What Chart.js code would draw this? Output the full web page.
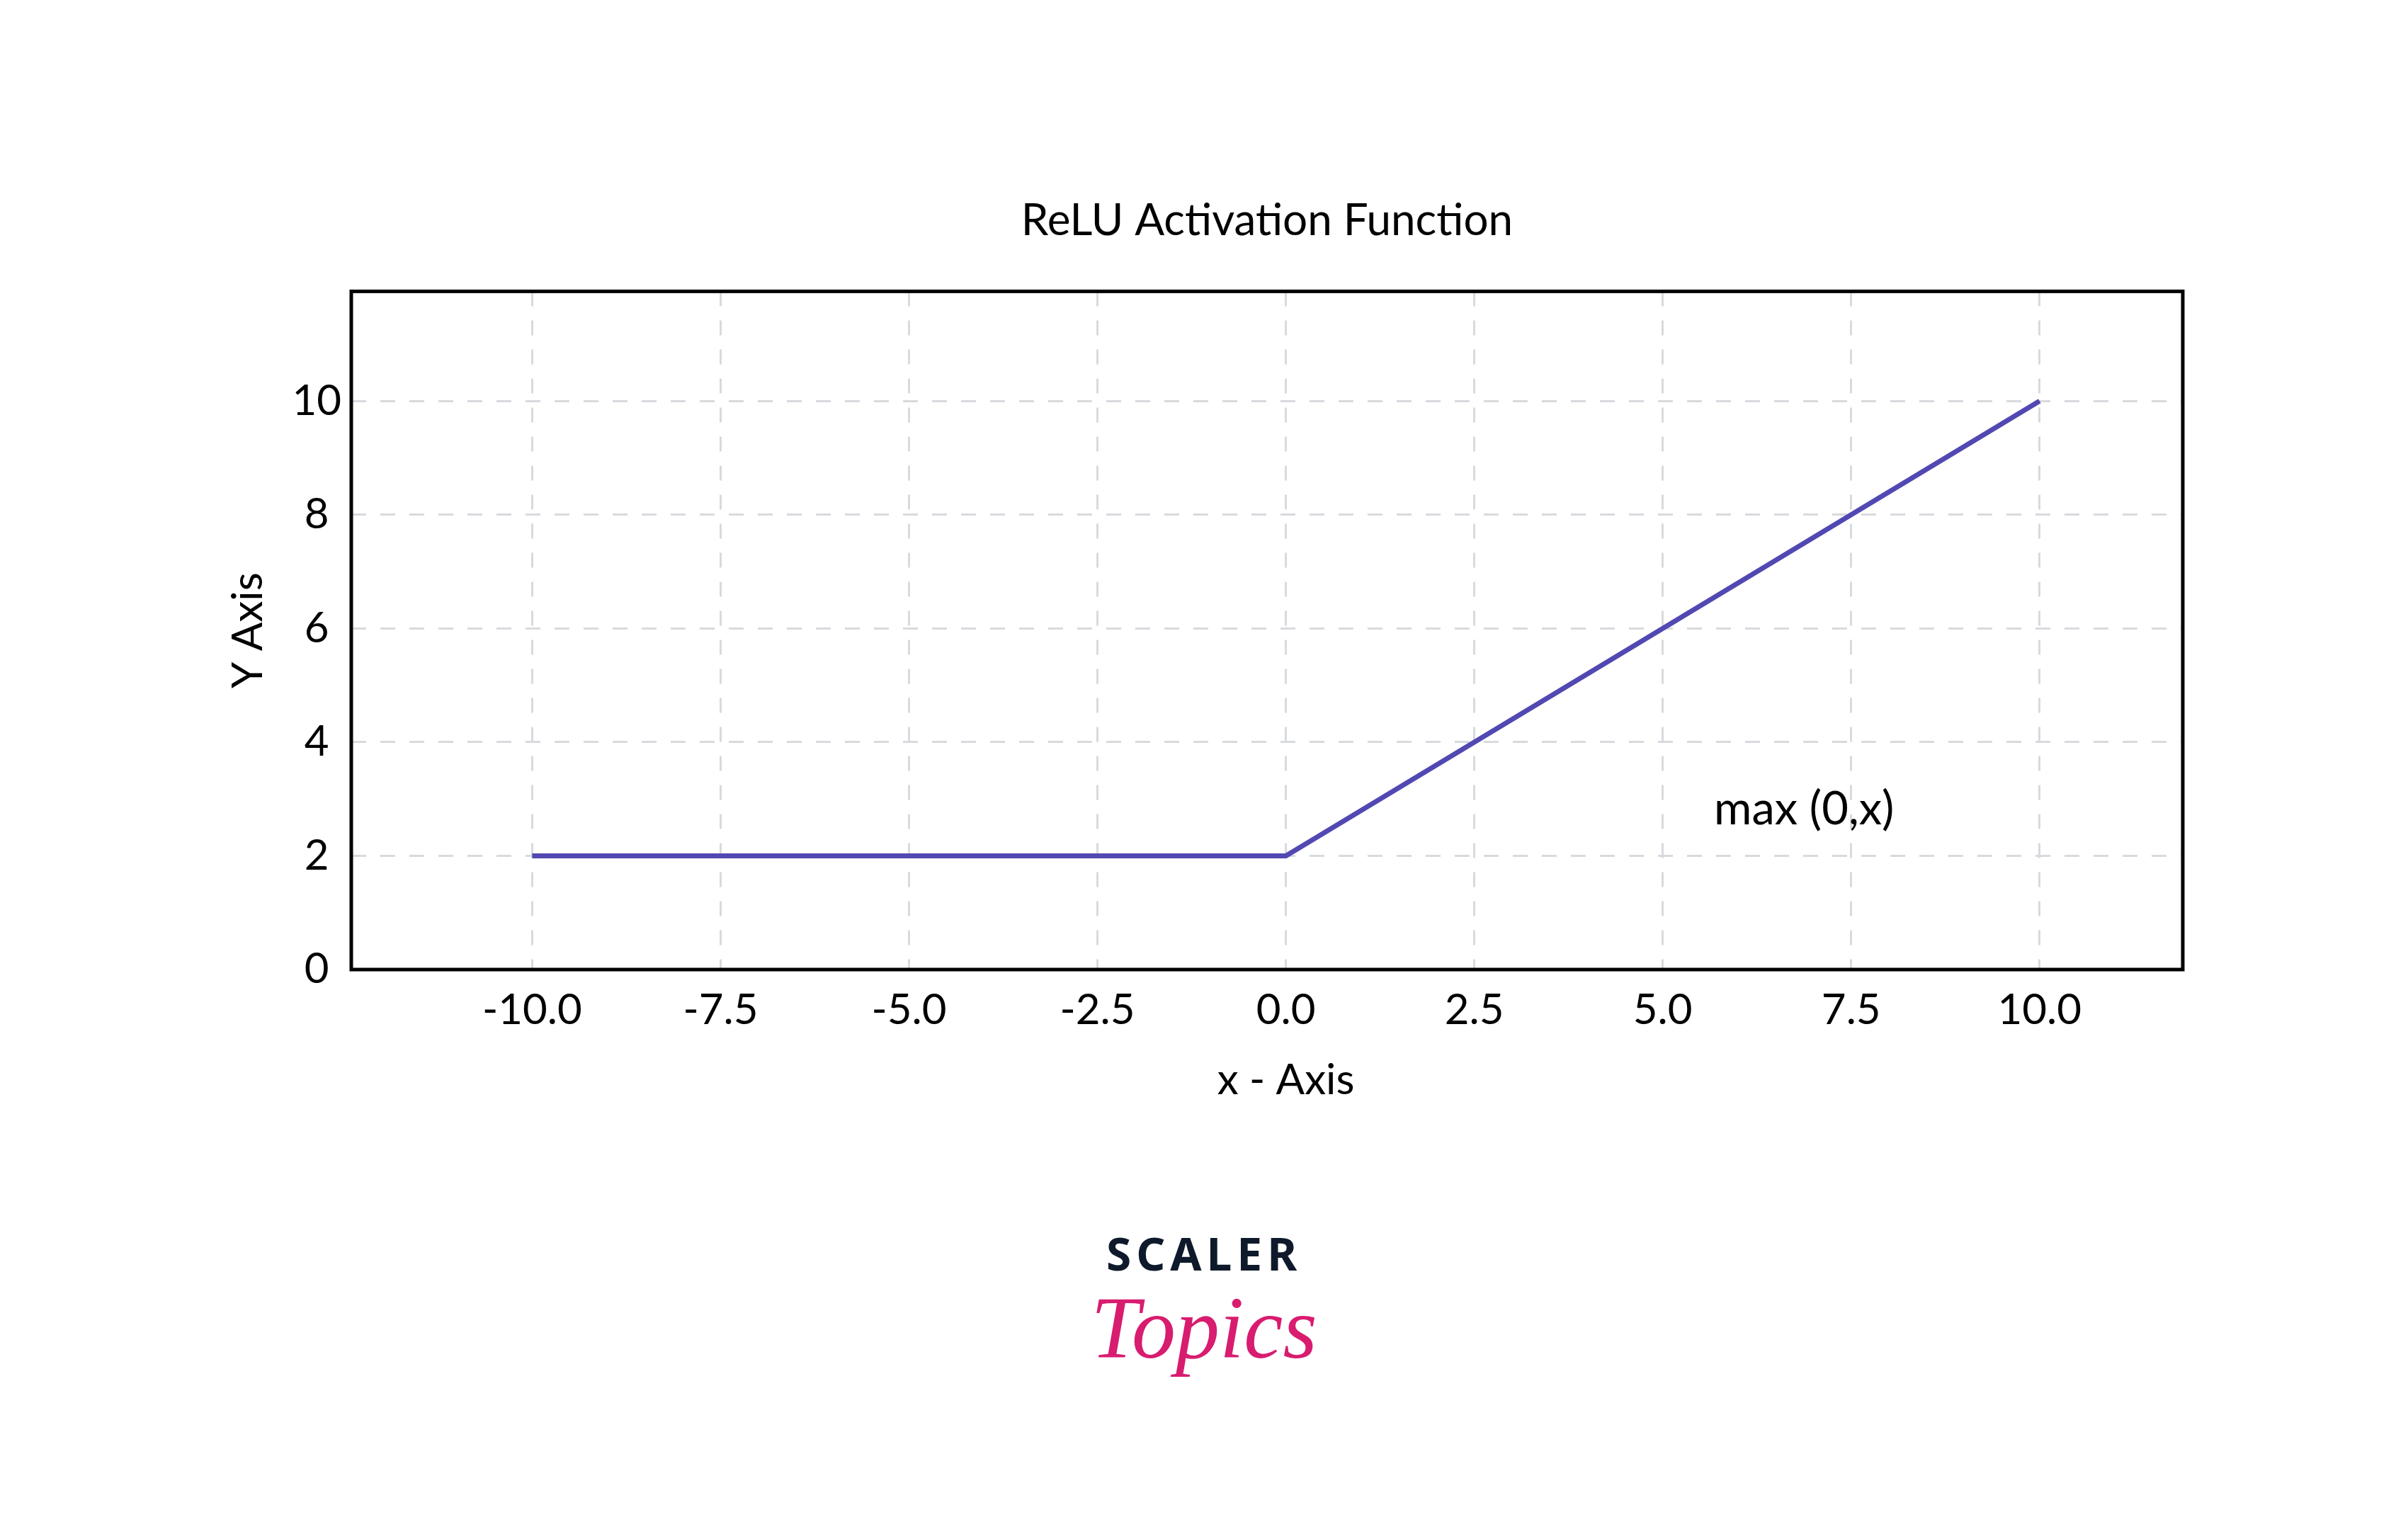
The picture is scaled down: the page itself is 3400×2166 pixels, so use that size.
<!DOCTYPE html>
<html>
<head>
<meta charset="utf-8">
<script src="https://cdn.jsdelivr.net/npm/chart.js@4.4.1/dist/chart.umd.min.js"></script>
<style>
  html, body { margin: 0; padding: 0; background: #fff; }
  #wrap { position: relative; width: 3400px; height: 2166px; }
  #logo { position: absolute; left: 1500px; top: 1735px; width: 400px; text-align: center; }
  #logo .scaler { font-family: 'Noto Sans', sans-serif; font-weight: 700; font-size: 64px; letter-spacing: 7px; color: #0e1a2b; line-height: 70px; }
  #logo .topics { font-family: 'Liberation Serif', serif; font-style: italic; font-size: 124px; color: #d81c6f; line-height: 130px; margin-top: 6px; }
</style>
</head>
<body>
<div id="wrap">
  <canvas id="reluChart" width="3400" height="2166"></canvas>
  <div id="logo"><div class="scaler">SCALER</div><div class="topics">Topics</div></div>
</div>
<script>
// data
const xs = [-10, 0, 10];
const ys = [2, 2, 10];
const xTicks = [-10, -7.5, -5, -2.5, 0, 2.5, 5, 7.5, 10];
const yTicks = [0, 2, 4, 6, 8, 10];
const noteText = 'max (0,x)';
const notePos = [5.68, 2.55];

const FONT = "'Source Sans Pro', Lato, sans-serif";

// frame round the plot, x label and the note
const extras = {
    id: 'extras',
    afterDraw(chart) {
        const ctx = chart.ctx, a = chart.chartArea;
        const xs_ = chart.scales.x, ys_ = chart.scales.y;
        ctx.save();
        ctx.strokeStyle = '#000';
        ctx.lineWidth = 5;
        ctx.strokeRect(a.left, a.top, a.right - a.left, a.bottom - a.top);
        ctx.fillStyle = '#000';
        ctx.font = '60px ' + FONT;
        ctx.textAlign = 'center';
        ctx.textBaseline = 'middle';
        ctx.fillText('x - Axis', xs_.getPixelForValue(0), 1526);
        ctx.font = '65px ' + FONT;
        ctx.textAlign = 'left';
        ctx.textBaseline = 'alphabetic';
        ctx.fillText(noteText, xs_.getPixelForValue(notePos[0]), ys_.getPixelForValue(notePos[1]));
        ctx.restore();
    }
};

const gridStyle = { color: '#d7dade', lineWidth: 3, drawTicks: false };
const borderStyle = { display: false, dash: [21, 20] };

new Chart(document.getElementById('reluChart'), {
    type: 'scatter',
    data: {
        datasets: [{
            data: xs.map((x, i) => ({ x: x, y: ys[i] })),
            showLine: true,
            borderColor: 'rgb(82, 72, 178)',
            borderWidth: 7,
            pointRadius: 0,
            tension: 0
        }]
    },
    options: {
        responsive: false,
        animation: false,
        layout: { padding: { left: 0, right: 318, top: 0, bottom: 597 } },
        plugins: {
            legend: { display: false },
            tooltip: { enabled: false },
            title: {
                display: true,
                text: 'ReLU Activation Function',
                fullSize: false,
                color: '#000',
                font: { family: FONT, size: 62, weight: 'normal', lineHeight: 1.2 },
                padding: { top: 275, bottom: 62 }
            }
        },
        scales: {
            x: {
                type: 'linear',
                min: -12.4,
                max: 11.9,
                grid: gridStyle,
                border: borderStyle,
                afterBuildTicks: s => { s.ticks = xTicks.map(v => ({ value: v })); },
                afterFit: s => { s.height = 200; },
                ticks: {
                    color: '#000',
                    padding: 22,
                    maxRotation: 0,
                    font: { family: FONT, size: 60, lineHeight: 1.2 },
                    callback: v => v.toFixed(1)
                }
            },
            y: {
                min: 0,
                max: 11.93,
                grid: gridStyle,
                border: borderStyle,
                afterBuildTicks: s => { s.ticks = yTicks.map(v => ({ value: v })); },
                afterFit: s => { s.width = 496; },
                title: {
                    display: true,
                    text: 'Y Axis',
                    color: '#000',
                    font: { family: FONT, size: 60, lineHeight: 1.2 },
                    padding: { top: 315, bottom: 0 }
                },
                ticks: {
                    color: '#000',
                    padding: 14,
                    crossAlign: 'center',
                    font: { family: FONT, size: 60, lineHeight: 1.2 }
                }
            }
        }
    },
    plugins: [extras]
});
</script>
</body>
</html>
